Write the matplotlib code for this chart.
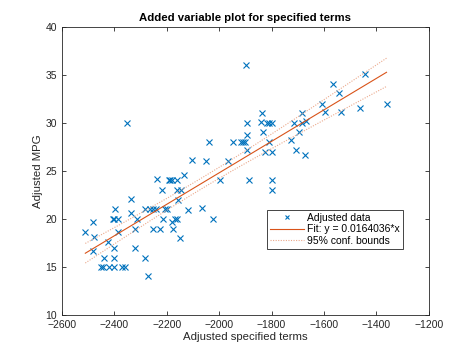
import numpy as np
import matplotlib
matplotlib.use("Agg")
import matplotlib.pyplot as plt

plt.rcParams['font.family'] = ['Liberation Sans', 'DejaVu Sans']

# adjusted data
adj_x = [-2511, -2482, -2476, -2483, -2438, -2452, -2445, -2425, -2419, -2403,
         -2402, -2402, -2407, -2400, -2387, -2396, -2387, -2371, -2361, -2350,
         -2337, -2337, -2321, -2314, -2321, -2285, -2270, -2285, -2264, -2251,
         -2251, -2226, -2238, -2241, -2218, -2213, -2206, -2200, -2192, -2187,
         -2181, -2179, -2175, -2168, -2162, -2160, -2162, -2147, -2158, -2149,
         -2134, -2119, -2105, -2067, -2051, -2039, -2025, -1996, -1968, -1946,
         -1917, -1910, -1902, -1899, -1895, -1893, -1895, -1885, -1838, -1842,
         -1834, -1825, -1819, -1810, -1798, -1810, -1798, -1800, -1800, -1724,
         -1714, -1705, -1696, -1683, -1683, -1667, -1673, -1606, -1596, -1565,
         -1544, -1533, -1463, -1442, -1361]
adj_y = [18.6, 19.65, 18.1, 16.6, 15.9, 15.0, 15.0, 17.6, 15.0, 15.0,
         15.9, 17.0, 20.0, 20.0, 20.0, 21.0, 18.6, 15.0, 15.0, 30.0,
         22.1, 20.6, 18.9, 20.0, 17.0, 15.9, 14.0, 21.0, 21.0, 21.0,
         18.9, 18.9, 24.1, 21.0, 23.0, 20.0, 21.0, 21.0, 24.0, 24.0,
         24.0, 19.65, 18.9, 20.0, 20.0, 24.0, 23.0, 23.0, 22.0, 18.0,
         24.6, 20.9, 26.1, 21.1, 26.0, 28.0, 20.0, 24.0, 26.0, 28.0,
         28.0, 28.0, 28.0, 36.0, 30.0, 28.7, 27.2, 24.0, 31.0, 30.1,
         29.0, 27.0, 30.0, 30.0, 30.0, 28.0, 27.0, 24.0, 23.0, 28.2,
         30.0, 27.2, 29.1, 31.0, 30.0, 30.2, 26.6, 32.0, 31.15, 34.1,
         33.1, 31.15, 31.6, 35.1, 32.0]

slope = 0.0164036
intercept = 57.6

x = np.array(adj_x, dtype=float)
y = np.array(adj_y, dtype=float)

# fitted line and 95% confidence bounds
xs = np.linspace(x.min(), x.max(), 200)
fit = intercept + slope * xs
n = len(x)
resid = y - (intercept + slope * x)
s = np.sqrt(np.sum(resid ** 2) / (n - 2))
sxx = np.sum((x - x.mean()) ** 2)
hw = 1.99 * s * np.sqrt(1.0 / n + (xs - x.mean()) ** 2 / sxx)

blue = '#0072BD'
orange = '#D95319'
pale_orange = '#EBA98C'
txt = '#262626'

fig = plt.figure(figsize=(4.74, 3.55), dpi=100)
ax = fig.add_axes([0.1308, 0.1135, 0.7736, 0.8105])

ax.plot(x, y, 'x', color=blue, markersize=4.5, markeredgewidth=0.8, label='Adjusted data')
ax.plot(xs, fit, '-', color=orange, linewidth=0.8, label='Fit: y = 0.0164036*x')
ax.plot(xs, fit + hw, color=pale_orange, linestyle=(0, (1, 1.3)), linewidth=0.8,
        label='95% conf. bounds')
ax.plot(xs, fit - hw, color=pale_orange, linestyle=(0, (1, 1.3)), linewidth=0.8)

ax.set_xlim(-2600, -1200)
ax.set_ylim(10, 40)
ax.set_xticks(np.arange(-2600, -1199, 200))
ax.set_yticks(np.arange(10, 41, 5))
ax.tick_params(direction='in', length=3, width=0.6, labelsize=7.5, colors=txt,
               top=True, right=True)
for sp in ax.spines.values():
    sp.set_linewidth(0.6)
    sp.set_color(txt)

ax.set_xlabel('Adjusted specified terms', fontsize=8.2, color=txt, labelpad=2)
ax.set_ylabel('Adjusted MPG', fontsize=8.2, color=txt, labelpad=2)
ax.set_title('Added variable plot for specified terms', fontsize=8.2,
             fontweight='bold', pad=4)

leg = ax.legend(loc='lower right', bbox_to_anchor=(0.935, 0.221), fontsize=7.5,
                fancybox=False, edgecolor=txt, framealpha=1, markerscale=0.7,
                handlelength=3.2, borderpad=0.3, labelspacing=0.15,
                handletextpad=0.3, borderaxespad=0.2)
leg.get_frame().set_linewidth(0.6)

fig.savefig('out.png', dpi=100)
